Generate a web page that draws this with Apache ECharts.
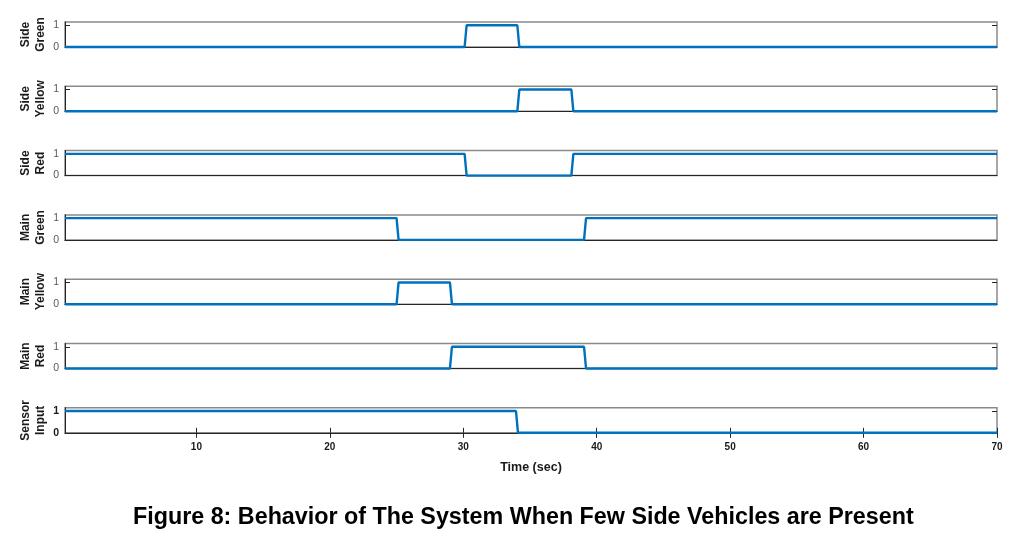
<!DOCTYPE html>
<html><head><meta charset="utf-8">
<script src="https://cdn.jsdelivr.net/npm/echarts@6/dist/echarts.min.js"></script>
<style>html,body{margin:0;padding:0;background:#fff}#c{width:1023px;height:543px}</style>
</head><body><div id="c"></div>
<script>
const panelNames = ['Side\nGreen','Side\nYellow','Side\nRed','Main\nGreen','Main\nYellow','Main\nRed','Sensor\nInput'];
const sideGreen  = [[0.15,0],[30.1,0],[30.25,1],[34.05,1],[34.2,0],[70,0]];
const sideYellow = [[0.15,0],[34.05,0],[34.2,1],[38.1,1],[38.25,0],[70,0]];
const sideRed    = [[0.15,1],[30.1,1],[30.25,0],[38.1,0],[38.25,1],[70,1]];
const mainGreen  = [[0.15,1],[25.0,1],[25.15,0],[39.05,0],[39.2,1],[70,1]];
const mainYellow = [[0.15,0],[25.0,0],[25.15,1],[29.0,1],[29.15,0],[70,0]];
const mainRed    = [[0.15,0],[29.0,0],[29.15,1],[39.05,1],[39.2,0],[70,0]];
const sensorInput= [[0.15,1],[33.95,1],[34.1,0],[70,0]];
const xTicks = [10,20,30,40,50,60,70];
const yTicks = [0,1];
const xLabel = 'Time (sec)';
const title = 'Figure 8: Behavior of The System When Few Side Vehicles are Present';

const seriesData = [sideGreen, sideYellow, sideRed, mainGreen, mainYellow, mainRed, sensorInput];
const grids=[], xAxes=[], yAxes=[], series=[];
const FONT = '"Liberation Sans", Arial, sans-serif';
seriesData.forEach((d,i)=>{
  const last = i===seriesData.length-1;
  grids.push({left:65, right:26, top:22+i*64.3, height:25, show:true, borderColor:'#8a8a8a', borderWidth:1.5, backgroundColor:'#fff'});
  xAxes.push({type:'value', gridIndex:i, min:0.15, max:70, position:'bottom',
    axisLine:{show:true, onZero:false, lineStyle:{color:'#262626', width:1}},
    axisTick:{show:last, inside:true, length:5, customValues:xTicks, lineStyle:{color:'#262626'}},
    axisLabel:{show:last, customValues:xTicks, fontFamily:FONT, fontSize:10, fontWeight:'bold', color:'#1a1a1a', margin:9},
    splitLine:{show:false},
    name: last? xLabel : '', nameLocation:'middle', nameGap:28, nameMoveOverlap:false,
    nameTextStyle:{fontFamily:FONT, fontSize:12.5, fontWeight:'bold', color:'#1a1a1a'}
  });
  xAxes.push({type:'value', gridIndex:i, min:0.15, max:70, position:'top',
    axisLine:{show:false},
    axisTick:{show:last, inside:true, length:5, customValues:xTicks, lineStyle:{color:'#262626'}},
    axisLabel:{show:false}, splitLine:{show:false}
  });
  yAxes.push({type:'value', gridIndex:i, min:0, max:1.15, position:'left',
    axisLine:{show:true, onZero:false, lineStyle:{color:'#262626', width:1}},
    axisTick:{show:true, inside:true, length:5, customValues:[1], lineStyle:{color:'#262626'}},
    axisLabel:{show:true, customValues:yTicks, fontFamily:FONT, fontSize:10.5,
      fontWeight: last?'bold':'normal', color: last?'#1a1a1a':'#5a5a5a', margin:6},
    splitLine:{show:false},
    name: panelNames[i], nameLocation:'middle', nameRotate:90, nameGap:17, nameMoveOverlap:false,
    nameTextStyle:{fontFamily:FONT, fontSize:12, fontWeight:'bold', color:'#1a1a1a', lineHeight:15}
  });
  yAxes.push({type:'value', gridIndex:i, min:0, max:1.15, position:'right',
    axisLine:{show:false},
    axisTick:{show:true, inside:true, length:5, customValues:[1], lineStyle:{color:'#262626'}},
    axisLabel:{show:false}, splitLine:{show:false}
  });
  series.push({type:'line', xAxisIndex:2*i, yAxisIndex:2*i, data:d, showSymbol:false, symbol:'none',
    lineStyle:{color:'#0072BD', width:2.4}, clip:false, animation:false});
});

const chart = echarts.init(document.getElementById('c'), null, {renderer:'canvas'});
chart.setOption({
  animation:false,
  backgroundColor:'#fff',
  graphic:[{type:'text', left:133, top:506, style:{text:title, fontFamily:FONT, fontSize:23.3, fontWeight:'bold', fill:'#000'}}],
  grid:grids, xAxis:xAxes, yAxis:yAxes, series:series
});
</script></body></html>
